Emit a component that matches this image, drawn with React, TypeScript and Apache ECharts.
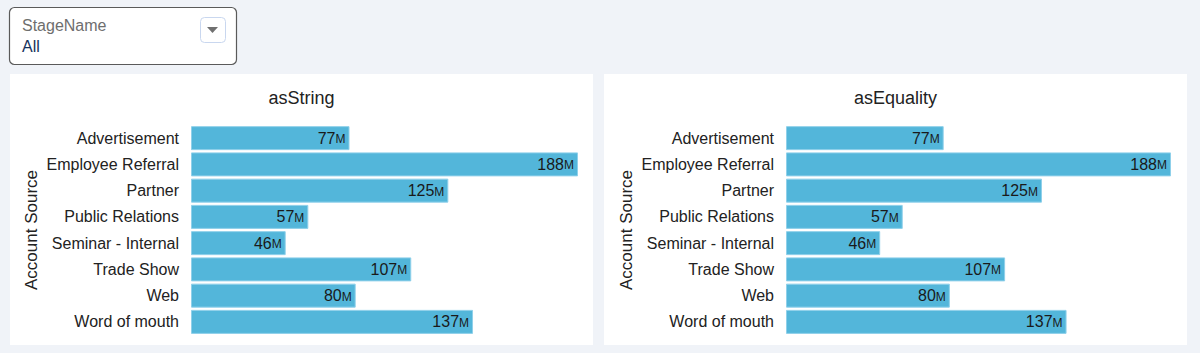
import React, { useEffect, useRef } from "react";
import * as echarts from "echarts";

const categories = [
  "Advertisement",
  "Employee Referral",
  "Partner",
  "Public Relations",
  "Seminar - Internal",
  "Trade Show",
  "Web",
  "Word of mouth",
];
const asStringValues = [77, 188, 125, 57, 46, 107, 80, 137];
const asEqualityValues = [77, 188, 125, 57, 46, 107, 80, 137];
const chartTitles = ["asString", "asEquality"];
const axisName = "Account Source";
const filterLabel = "StageName";
const filterValue = "All";

const FONT = "Liberation Sans, Arial, Helvetica, sans-serif";
const BAR = "#53b6da";

export default function App() {
  const ref = useRef<HTMLDivElement>(null);
  useEffect(() => {
    document.body.style.margin = "0";
    const chart = echarts.init(ref.current!, null, { renderer: "svg" });
    const grids = [
      { left: 191, width: 387, top: 125, height: 210 },
      { left: 786, width: 385, top: 125, height: 210 },
    ];
    const panelX = [10, 604];
    const label = {
      show: true,
      position: "insideRight",
      distance: 4,
      formatter: (p: any) => `{n|${p.value}}{m|M}`,
      rich: {
        n: { fontSize: 16, color: "#1a1a1a", fontFamily: FONT },
        m: { fontSize: 12, color: "#1a1a1a", fontFamily: FONT, padding: [2, 0, 0, 0] },
      },
    };
    const mkSeries = (data: number[], i: number) => ({
      type: "bar",
      xAxisIndex: i,
      yAxisIndex: i,
      data,
      barWidth: 24,
      itemStyle: { color: BAR, borderColor: "#8fd0ea", borderWidth: 1 },
      label,
    });
    chart.setOption({
      animation: false,
      backgroundColor: "#f0f3f8",
      grid: grids,
      xAxis: grids.map((_, i) => ({
        gridIndex: i,
        type: "value",
        min: 0,
        max: "dataMax",
        show: false,
      })),
      yAxis: grids.map((_, i) => ({
        gridIndex: i,
        type: "category",
        inverse: true,
        data: categories,
        axisLine: { show: false },
        axisTick: { show: false },
        axisLabel: { color: "#222", fontSize: 16, fontFamily: FONT, margin: 12 },
        name: axisName,
        nameLocation: "middle",
        nameGap: 151,
        nameRotate: 90,
        nameTextStyle: { color: "#222", fontSize: 17, fontFamily: FONT },
      })),
      series: [mkSeries(asStringValues, 0), mkSeries(asEqualityValues, 1)],
      graphic: [
        // filter box
        {
          type: "rect",
          z: -10,
          shape: { x: 9.5, y: 7.5, width: 227, height: 57, r: 5 },
          style: { fill: "#ffffff", stroke: "#5a5a5a", lineWidth: 1.2 },
        },
        {
          type: "text",
          x: 22,
          y: 17,
          style: { text: filterLabel, fill: "#6e6e6e", fontSize: 16, fontFamily: FONT },
        },
        {
          type: "text",
          x: 22,
          y: 38,
          style: { text: filterValue, fill: "#16325c", fontSize: 16, fontFamily: FONT },
        },
        {
          type: "rect",
          shape: { x: 200.5, y: 17.5, width: 25, height: 25, r: 4 },
          style: { fill: "#ffffff", stroke: "#c9d7ef", lineWidth: 1 },
        },
        {
          type: "polygon",
          shape: { points: [[207, 27], [218, 27], [212.5, 33]] },
          style: { fill: "#707070" },
        },
        // panels
        ...panelX.map((x) => ({
          type: "rect",
          z: -10,
          shape: { x, y: 74, width: 583, height: 271 },
          style: { fill: "#ffffff" },
        })),
        ...panelX.map((x, i) => ({
          type: "text",
          x: x + 291.5,
          y: 98,
          style: {
            text: chartTitles[i],
            fill: "#222",
            fontSize: 18,
            fontFamily: FONT,
            align: "center",
            verticalAlign: "middle",
          },
        })),
      ],
    });
    return () => chart.dispose();
  }, []);
  return <div ref={ref} style={{ width: 1200, height: 353 }} />;
}
